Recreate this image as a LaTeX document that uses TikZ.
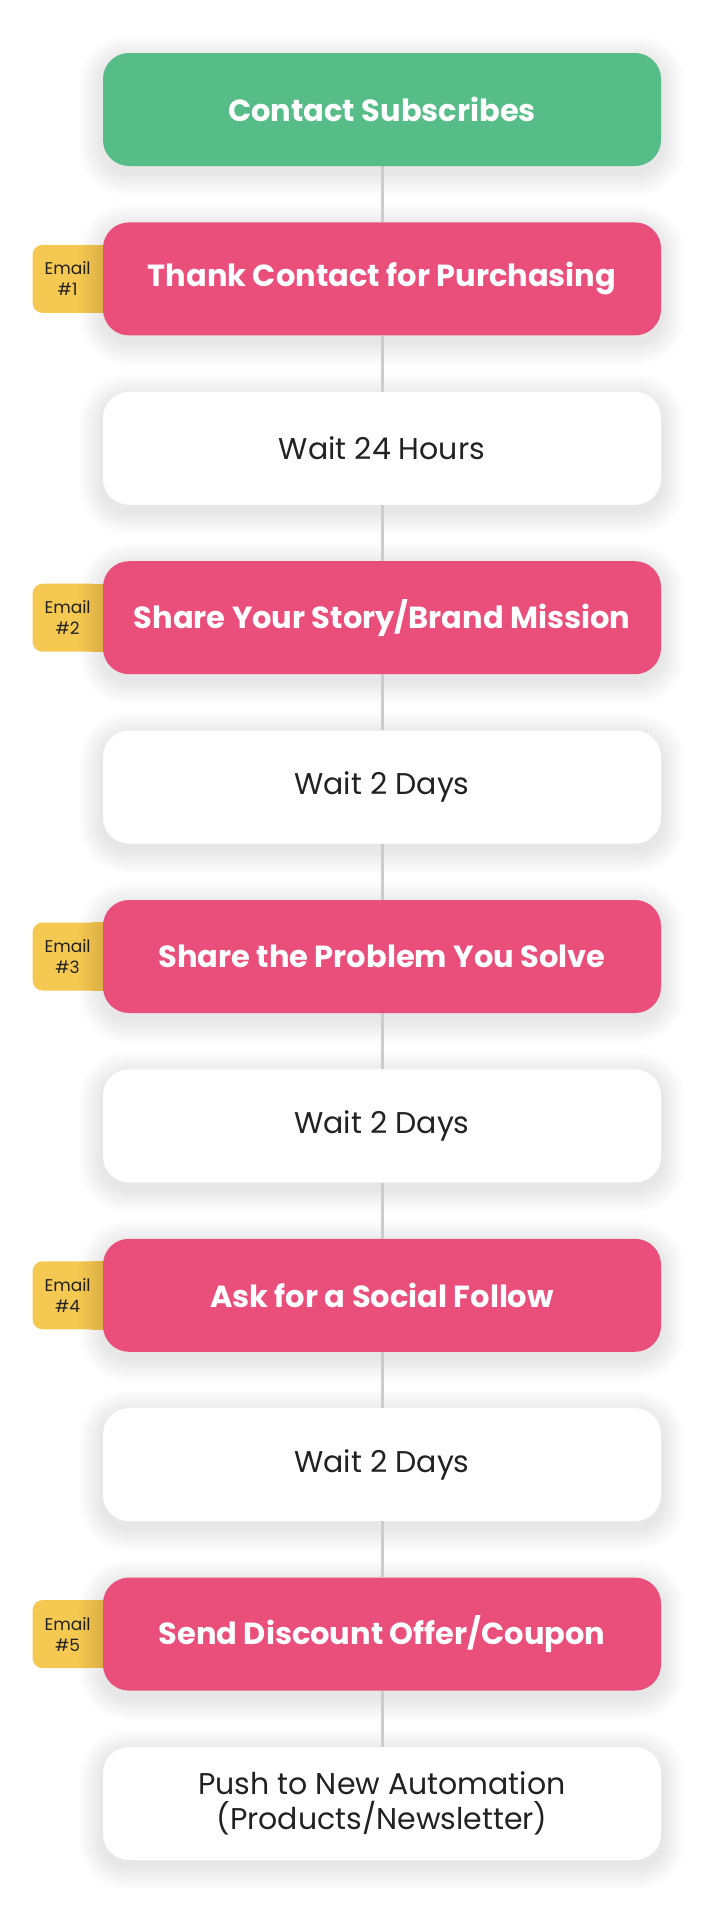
\documentclass[tikz,border=0pt]{standalone}
\usepackage{fontspec}
\setmainfont{Poppins}
\usetikzlibrary{positioning,backgrounds}

\definecolor{stepgreen}{HTML}{56BD88}
\definecolor{steppink}{HTML}{EA4E7A}
\definecolor{tagyellow}{HTML}{F5C851}
\definecolor{inkdark}{HTML}{222222}
\definecolor{linegray}{HTML}{CCCCCC}

\tikzset{
  card/.style={rectangle, rounded corners=26pt, minimum width=558pt, minimum height=113pt,
    inner sep=0pt, align=center},
  startbox/.style={card, fill=stepgreen, text=white, font=\fontsize{30.5}{36}\selectfont\bfseries},
  mailbox/.style={card, fill=steppink, text=white, font=\fontsize{30.5}{36}\selectfont\bfseries},
  waitbox/.style={card, fill=white, text=inkdark, font=\fontsize{30}{35}\selectfont},
  tag/.style={rectangle, rounded corners=10pt, fill=tagyellow, minimum width=70pt,
    minimum height=68pt, inner sep=0pt, align=center, text=inkdark,
    font=\fontsize{17}{21}\selectfont},
  link/.style={draw=linegray, line width=3pt},
  haze/.style={fill=black, opacity=0.007}
}

\begin{document}
\begin{tikzpicture}[x=1pt, y=-1pt, node distance=56pt]
  \useasboundingbox (0,0) rectangle (728,1914);
  \begin{pgfonlayer}{background}
    \fill[white] (0,0) rectangle (728,1914);
  \end{pgfonlayer}

  \node[startbox] (start) at (382,109.5) {Contact Subscribes};
  \node[mailbox, below=of start] (mail1) {Thank Contact for Purchasing};
  \node[waitbox, below=of mail1] (wait1) {Wait 24 Hours};
  \node[mailbox, below=of wait1] (mail2) {Share Your Story/Brand Mission};
  \node[waitbox, below=of mail2] (wait2) {Wait 2 Days};
  \node[mailbox, below=of wait2] (mail3) {Share the Problem You Solve};
  \node[waitbox, below=of mail3] (wait3) {Wait 2 Days};
  \node[mailbox, below=of wait3] (mail4) {Ask for a Social Follow};
  \node[waitbox, below=of mail4] (wait4) {Wait 2 Days};
  \node[mailbox, below=of wait4] (mail5) {Send Discount Offer/Coupon};
  \node[waitbox, below=of mail5] (push) {Push to New Automation\\(Products/Newsletter)};

  \begin{pgfonlayer}{background}
    % email tags sit behind the pink cards
    \foreach \i in {1,...,5} {
      \node[tag, left=0pt of mail\i] (tag\i) {Email\\\#\i};
      \fill[tagyellow] ([xshift=-12pt]tag\i.north east) rectangle ([xshift=40pt]tag\i.south east);
    }
    % soft shadow under every card
    \foreach \n in {start, mail1, wait1, mail2, wait2, mail3, wait3, mail4, wait4, mail5, push}
      \foreach \k in {2,4,...,24} {
        \pgfmathsetmacro\r{26+\k}
        \fill[haze, rounded corners=\r pt] ([shift={(-\k,-\k+6)}]\n.north west)
          rectangle ([shift={(\k,\k+6)}]\n.south east);
      }
    \foreach \source/\dest in {start/mail1, mail1/wait1, wait1/mail2, mail2/wait2, wait2/mail3,
        mail3/wait3, wait3/mail4, mail4/wait4, wait4/mail5, mail5/push}
      \path[link] (\source) -- (\dest);
  \end{pgfonlayer}
\end{tikzpicture}
\end{document}
